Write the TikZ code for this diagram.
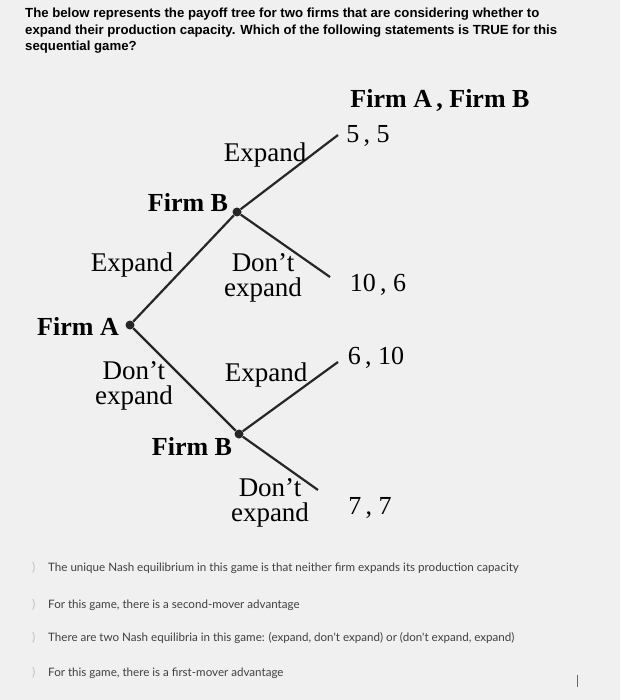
\documentclass[tikz,border=0pt]{standalone}
\usepackage{fontspec}
\setmainfont{Liberation Serif}
\newfontfamily\qfont{Liberation Sans}
\newfontfamily\ofont{Lato}
\begin{document}
\begin{tikzpicture}[x=1pt,y=-1pt,
  lbl/.style={font=\fontsize{27}{25}\selectfont, align=center, inner sep=0pt},
  firm/.style={font=\bfseries\fontsize{26}{25}\selectfont, inner sep=0pt},
  pay/.style={font=\fontsize{26}{25}\selectfont, inner sep=0pt},
  dot/.style={circle, fill=black!85, inner sep=0pt, minimum size=9pt},
  branch/.style={line width=2.2pt, black!85},
  opt/.style={font=\ofont\fontsize{11.6}{12}\selectfont, text=black!75, anchor=west, inner sep=0pt},
  ring/.style={font=\ofont\fontsize{12}{12}\selectfont, text=black!25, anchor=west, inner sep=0pt}]
\fill[black!6] (0,0) rectangle (620,700);
\useasboundingbox (0,0) rectangle (620,700);
\node[anchor=west, align=left, inner sep=0pt, font=\qfont\bfseries\fontsize{13.2}{16.5}\selectfont] (q) at (25,31)
 {The below represents the payoff tree for two firms that are considering whether to\\
  expand their production capacity. Which of the following statements is TRUE for this\\
  sequential game?};
% nodes
\node[dot] (a) at (130,325) {};
\node[dot] (b1) at (237,212) {};
\node[dot] (b2) at (239,434) {};
\coordinate (t1) at (338,135);
\coordinate (t2) at (330,277);
\coordinate (t3) at (338,362);
\coordinate (t4) at (318,490);
\draw[branch] (a) -- (b1);
\draw[branch] (a) -- (b2);
\draw[branch] (b1) -- (t1);
\draw[branch] (b1) -- (t2);
\draw[branch] (b2) -- (t3);
\draw[branch] (b2) -- (t4);
% labels
\node[firm] (hdr) at (440,100) {Firm A\,, Firm B};
\node[pay] (p1) at (368,136) {5\,, 5};
\node[pay] (p2) at (378,285) {10\,, 6};
\node[pay] (p3) at (376,358) {6\,, 10};
\node[pay] (p4) at (370,508) {7\,, 7};
\node[firm] (la) at (78,326) {Firm A};
\node[firm] (lb1) at (188,203) {Firm B};
\node[firm] (lb2) at (192,447) {Firm B};
\node[lbl] (e1) at (265,155) {Expand};
\node[lbl] (e2) at (132,265) {Expand};
\node[lbl] (e3) at (266,375) {Expand};
\node[lbl] (d1) at (263,278) {Don’t\\expand};
\node[lbl] (d2) at (134,386) {Don’t\\expand};
\node[lbl] (d3) at (270,503) {Don’t\\expand};
% options
\node[ring] at (32,568) {)};
\node[opt] (o1) at (48,568) {The unique Nash equilibrium in this game is that neither firm expands its production capacity};
\node[ring] at (32,605) {)};
\node[opt] (o2) at (48,605) {For this game, there is a second-mover advantage};
\node[ring] at (32,638) {)};
\node[opt] (o3) at (48,638) {There are two Nash equilibria in this game: (expand, don't expand) or (don't expand, expand)};
\node[ring] at (32,673) {)};
\node[opt] (o4) at (48,673) {For this game, there is a first-mover advantage};
\draw[black!60, line width=0.8pt] (577,675) -- (577,687);
\end{tikzpicture}
\end{document}
